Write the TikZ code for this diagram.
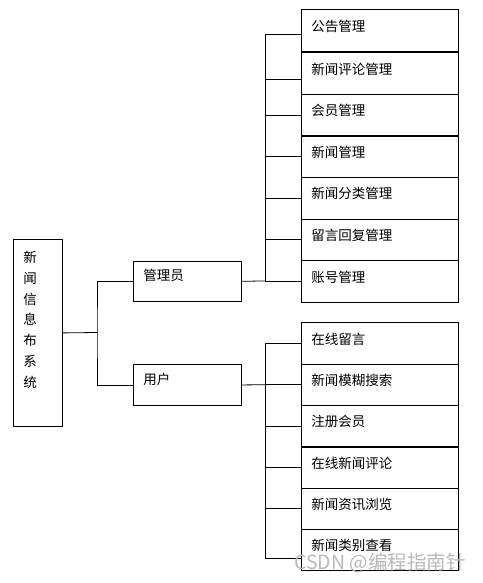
\documentclass[tikz,border=0pt]{standalone}
\usepackage{fontspec}
\setmainfont{Noto Sans CJK SC}
\usetikzlibrary{positioning}

\tikzset{
  box/.style={draw, rectangle, anchor=north west, inner xsep=10pt, inner ysep=0pt,
    align=left, line width=0.8pt, font=\fontsize{13.5}{20.8}\selectfont},
  rootbox/.style={box, text width=29pt, text height=23pt, text depth=164pt},
  midbox/.style={box, text width=88pt, text height=19.5pt, text depth=21pt},
  leafbox/.style={box, text width=136.7pt, text height=21.5pt, text depth=20.1pt},
  watermark/.style={text=gray!55, font=\fontsize{19.5}{20}\selectfont}
}

\begin{document}
\begin{tikzpicture}[x=1pt, y=-1pt, line width=0.8pt]
\useasboundingbox (0,0) rectangle (482,583);

\node[rootbox] (root) at (13,239) {新\\闻\\信\\息\\布\\系\\统};

\node[midbox] (admin) at (133,260.7) {管理员};
\node[midbox] (user) at (133,364.3) {用户};

% admin side
\node[leafbox] (m1) at (301,9.3) {公告管理};
\node[leafbox] (m2) at (301,52.3) {新闻评论管理};
\node[leafbox] (m3) at (301,93.9) {会员管理};
\node[leafbox] (m4) at (301,135.4) {新闻管理};
\node[leafbox] (m5) at (301,177.0) {新闻分类管理};
\node[leafbox] (m6) at (301,218.6) {留言回复管理};
\node[leafbox] (m7) at (301,260.1) {账号管理};

% user side
\node[leafbox] (u1) at (301,322.3) {在线留言};
\node[leafbox] (u2) at (301,363.6) {新闻模糊搜索};
\node[leafbox] (u3) at (301,404.9) {注册会员};
\node[leafbox] (u4) at (301,446.2) {在线新闻评论};
\node[leafbox] (u5) at (301,487.5) {新闻资讯浏览};
\node[leafbox] (u6) at (301,528.8) {新闻类别查看};

\coordinate (j0) at (97,332.5);
\coordinate (j1) at (265.7,280.9);
\coordinate (j2) at (265.7,384.7);

\draw (root.east) -- (j0);
\draw (admin.west) -| (j0) |- (user.west);

\draw (admin.east) -- (j1);
\draw ([yshift=-4.3pt]m1.west) -| (j1);
\draw ([yshift=-6pt]m2.west) -| (j1);
\draw (m3.west) -| (j1);
\draw (m4.west) -| (j1);
\draw (m5.west) -| (j1);
\draw (m6.west) -| (j1);
\draw (m7.west) -| (j1);

\draw (user.east) -- (j2);
\draw (u1.west) -| (j2);
\draw (u2.west) -| (j2);
\draw (u3.west) -| (j2);
\draw (u4.west) -| (j2);
\draw (u5.west) -| (j2);
\draw ([yshift=-8pt]u6.west) -| (j2);

\node[watermark] (wm) at (380,563) {CSDN @编程指南针};

\end{tikzpicture}
\end{document}
